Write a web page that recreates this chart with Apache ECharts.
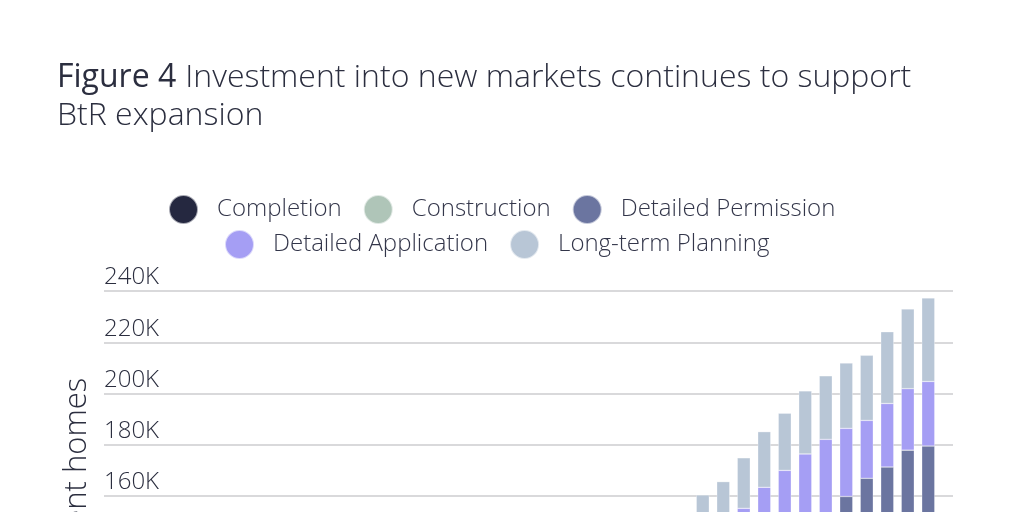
<!DOCTYPE html>
<html>
<head>
<meta charset="utf-8">
<script src="https://cdn.jsdelivr.net/npm/echarts@6/dist/echarts.min.js"></script>
<style>
html,body{margin:0;padding:0;overflow:hidden;background:#fff;}
#chart{width:1024px;height:1000px;}
</style>
</head>
<body>
<div id="chart"></div>
<script>
// Quarters (x-axis categories)
const categories = [
  "Q1 2014","Q2 2014","Q3 2014","Q4 2014","Q1 2015","Q2 2015","Q3 2015","Q4 2015",
  "Q1 2016","Q2 2016","Q3 2016","Q4 2016","Q1 2017","Q2 2017","Q3 2017","Q4 2017",
  "Q1 2018","Q2 2018","Q3 2018","Q4 2018","Q1 2019","Q2 2019","Q3 2019","Q4 2019",
  "Q1 2020","Q2 2020","Q3 2020","Q4 2020","Q1 2021","Q2 2021","Q3 2021","Q4 2021",
  "Q1 2022","Q2 2022","Q3 2022","Q4 2022","Q1 2023","Q2 2023","Q3 2023","Q4 2023"
];
// Values in thousands of homes
const completion = [10,11,12,13,14,16,17,19,21,23,25,27,29,31,33,35,37,39,41,43,45,48,51,54,57,60,63,65,68,70,72,75,78,81,84,87,90,93,97,100];
const construction = [14,15,16,17,18,19,20,21,22,23,24,25,26,27,28,29,30,31,32,33,34,35,35,36,37,38,38,39,40,41,42,43,44,45,46,47,48,49,50,50];
const detailedPermission = [8,8,9,9,10,10,11,11,12,12,13,13,14,14,15,15,16,16,17,17,18,18,19,19,19,20,21,21,22,22,23,24,24,23,22,25.8,28.9,29.3,30.9,29.5];
const detailedApplication = [5,5,6,6,7,7,8,8,9,10,10,11,11,12,12,12,12,13,13,13,13,13,13,14,14,14,15,15,17,18,18.2,21.4,24.0,27.4,30.1,26.6,22.6,24.8,24.0,25.2];
const longTermPlanning = [5,6,6,7,7,8,8,9,9,10,10,11,12,12,12,13,13,13,13,14,14,14,14,13,13,12,12,12,13.4,14.6,19.7,21.7,22.3,24.6,24.8,25.5,25.4,28.0,31.1,32.6];
const yTicks = [0, 20, 40, 60, 80, 100, 120, 140, 160, 180, 200, 220, 240];

const FONT = "'Open Sans', 'Noto Sans', sans-serif";
const DARK = '#2b2e3f';
const colors = {
  completion: '#252840',
  construction: '#afc5b8',
  permission: '#6b75a0',
  application: '#a59ef4',
  planning: '#b8c6d6'
};

function barSeries(name, data, color) {
  return {
    name: name,
    type: 'bar',
    stack: 'total',
    xAxisIndex: 1,
    yAxisIndex: 1,
    barWidth: 13,
    data: data,
    itemStyle: { color: color, borderColor: 'rgba(255,255,255,0.6)', borderWidth: 0.5 },
    emphasis: { disabled: true }
  };
}

const legendText = { fontFamily: FONT, fontSize: 24, fontWeight: 300, color: '#33364a', padding: [0, 0, 0, 14] };

const chart = echarts.init(document.getElementById('chart'), null, { renderer: 'canvas' });
chart.setOption({
  animation: false,
  backgroundColor: '#fff',
  title: {
    left: 52,
    top: 54,
    text: '{a|Figure 4} {b|Investment into new markets continues to support}\n{b|BtR expansion}',
    textStyle: {
      rich: {
        a: { fontFamily: FONT, fontSize: 32, fontWeight: 500, color: DARK, lineHeight: 38, padding: [0, 4, 0, 0] },
        b: { fontFamily: FONT, fontSize: 32, fontWeight: 300, color: DARK, lineHeight: 38 }
      }
    }
  },
  legend: [
    {
      data: ['Completion', 'Construction', 'Detailed Permission'],
      left: 163, top: 189,
      icon: 'circle', itemWidth: 29, itemHeight: 29, itemGap: 21,
      textStyle: legendText
    },
    {
      data: ['Detailed Application', 'Long-term Planning'],
      left: 219, top: 224,
      icon: 'circle', itemWidth: 29, itemHeight: 29, itemGap: 21,
      textStyle: legendText
    }
  ],
  grid: [
    { left: 104, width: 849, top: 291, height: 615, containLabel: false },
    { left: 118.5, width: 820, top: 291, height: 615, containLabel: false }
  ],
  xAxis: [
    { type: 'category', gridIndex: 0, data: [''], show: false },
    {
      type: 'category', gridIndex: 1, data: categories,
      axisLine: { show: false }, axisTick: { show: false },
      axisLabel: { show: false }
    }
  ],
  yAxis: [
    {
      type: 'value', gridIndex: 0, min: 0, max: 240, interval: 20,
      name: 'Number of Build to Rent homes',
      nameLocation: 'middle', nameGap: 9,
      nameTextStyle: { fontFamily: FONT, fontSize: 31, fontWeight: 300, color: DARK },
      axisLine: { show: false }, axisTick: { show: false },
      splitLine: { lineStyle: { color: '#d9d9db', width: 2 } },
      axisLabel: {
        inside: true, margin: 0, align: 'left', verticalAlign: 'bottom',
        fontFamily: FONT, fontSize: 24, fontWeight: 300, color: DARK, lineHeight: 27,
        formatter: function (v) { return yTicks.indexOf(v) >= 0 ? v + 'K' : ''; }
      }
    },
    {
      type: 'value', gridIndex: 1, min: 0, max: 240, interval: 20, show: false,
      splitLine: { show: false }
    }
  ],
  series: [
    barSeries('Completion', completion, colors.completion),
    barSeries('Construction', construction, colors.construction),
    barSeries('Detailed Permission', detailedPermission, colors.permission),
    barSeries('Detailed Application', detailedApplication, colors.application),
    barSeries('Long-term Planning', longTermPlanning, colors.planning)
  ]
});
</script>
</body>
</html>
